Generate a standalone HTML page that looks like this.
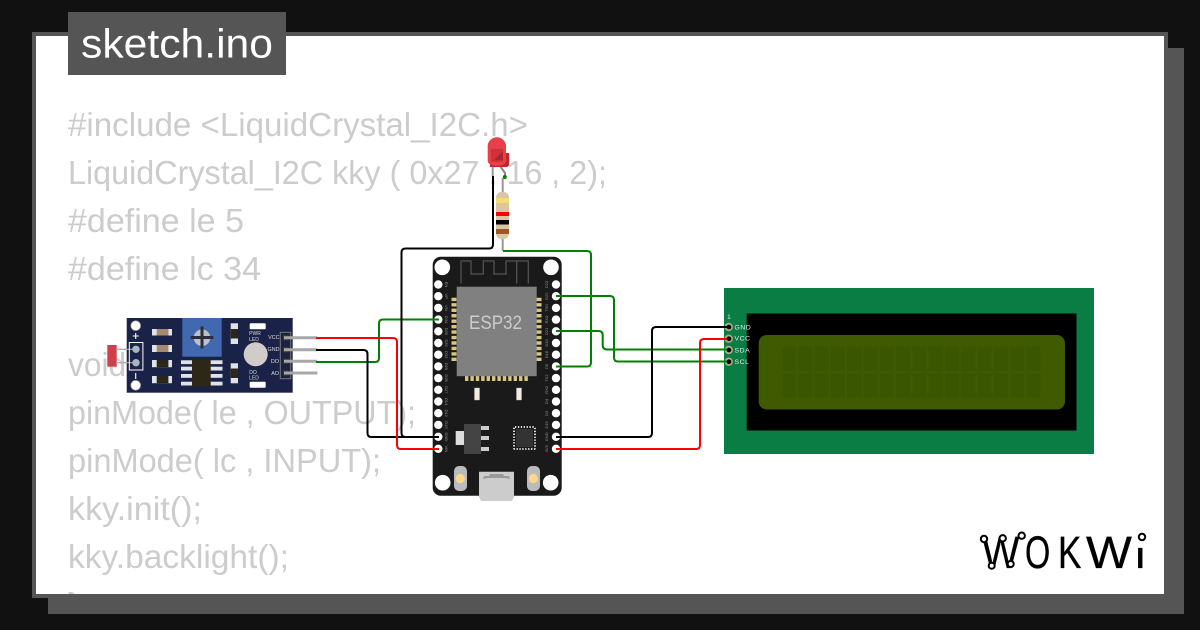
<!DOCTYPE html>
<html>
<head>
<meta charset="utf-8">
<style>
html,body{margin:0;padding:0;width:1200px;height:630px;overflow:hidden;background:#111;}
svg{position:absolute;left:0;top:0;}
#logo{position:absolute;left:0;top:0;width:1200px;height:630px;font-family:"Liberation Sans",sans-serif;font-size:45px;line-height:45px;color:#000;-webkit-text-stroke:.3px #000;}
#logo span{position:absolute;top:530px;transform-origin:0 38px;}
</style>
</head>
<body>
<svg width="1200" height="630" viewBox="0 0 1200 630" xmlns="http://www.w3.org/2000/svg">
<defs><clipPath id="c"><rect x="36" y="36" width="1128" height="558"/></clipPath></defs>
<rect width="1200" height="630" fill="#111"/>
<rect x="48" y="48" width="1136" height="566" fill="#555"/>
<rect x="32" y="32" width="1136" height="566" fill="#555"/>
<rect x="36" y="36" width="1128" height="558" fill="#fff"/>

<g clip-path="url(#c)" font-family="'Liberation Sans',sans-serif" font-size="33" fill="#ccc">
<text x="68" y="136" textLength="460" lengthAdjust="spacingAndGlyphs">#include &lt;LiquidCrystal_I2C.h&gt;</text>
<text x="68" y="184" textLength="539" lengthAdjust="spacingAndGlyphs">LiquidCrystal_I2C kky ( 0x27 , 16 , 2);</text>
<text x="68" y="232" textLength="176" lengthAdjust="spacingAndGlyphs">#define le 5</text>
<text x="68" y="280" textLength="193" lengthAdjust="spacingAndGlyphs">#define lc 34</text>
<text x="68" y="376" textLength="185" lengthAdjust="spacingAndGlyphs">void setup() {</text>
<text x="68" y="424" textLength="348" lengthAdjust="spacingAndGlyphs">pinMode( le , OUTPUT);</text>
<text x="68" y="472" textLength="313" lengthAdjust="spacingAndGlyphs">pinMode( lc , INPUT);</text>
<text x="68" y="520" textLength="134" lengthAdjust="spacingAndGlyphs">kky.init();</text>
<text x="68" y="568" textLength="221" lengthAdjust="spacingAndGlyphs">kky.backlight();</text>
<text x="68" y="616">}</text>
</g>

<rect x="68" y="12" width="218" height="63" fill="#555"/>
<text x="81" y="57.5" font-family="'Liberation Sans',sans-serif" font-size="41" fill="#fff" textLength="192" lengthAdjust="spacingAndGlyphs">sketch.ino</text>

<!-- LCD -->
<rect x="724" y="288" width="370" height="166" fill="#0a7d45"/>
<rect x="746.7" y="313.5" width="329.8" height="117" fill="#000"/>
<rect x="758.7" y="335" width="306.3" height="74.5" rx="8" fill="#3f5a00"/>
<g stroke="#3a5700" stroke-width="14" stroke-dasharray="24.4 2.3" fill="none">
<line x1="789" y1="346.7" x2="789" y2="398"/><line x1="805.3" y1="346.7" x2="805.3" y2="398"/><line x1="821.6" y1="346.7" x2="821.6" y2="398"/><line x1="837.9" y1="346.7" x2="837.9" y2="398"/><line x1="854.2" y1="346.7" x2="854.2" y2="398"/><line x1="870.5" y1="346.7" x2="870.5" y2="398"/><line x1="886.8" y1="346.7" x2="886.8" y2="398"/><line x1="903.1" y1="346.7" x2="903.1" y2="398"/><line x1="919.4" y1="346.7" x2="919.4" y2="398"/><line x1="935.7" y1="346.7" x2="935.7" y2="398"/><line x1="952" y1="346.7" x2="952" y2="398"/><line x1="968.3" y1="346.7" x2="968.3" y2="398"/><line x1="984.6" y1="346.7" x2="984.6" y2="398"/><line x1="1000.9" y1="346.7" x2="1000.9" y2="398"/><line x1="1017.2" y1="346.7" x2="1017.2" y2="398"/><line x1="1033.5" y1="346.7" x2="1033.5" y2="398"/>
</g>
<g fill="#0a7d45" stroke="#b5a77f" stroke-width="2">
<circle cx="728.7" cy="327" r="3.2"/><circle cx="728.7" cy="338.7" r="3.2"/><circle cx="728.7" cy="350" r="3.2"/><circle cx="728.7" cy="361.7" r="3.2"/>
</g>
<g font-family="'Liberation Sans',sans-serif" font-size="6.8" fill="#e8e8e8">
<text x="727" y="319">1</text>
<text x="734.5" y="329.500" letter-spacing=".6">GND</text>
<text x="734.5" y="340.500" letter-spacing=".6">VCC</text>
<text x="734.5" y="352.500" letter-spacing=".6">SDA</text>
<text x="734.5" y="364" letter-spacing=".6">SCL</text>
</g>

<!-- ESP32 board -->
<rect x="432.7" y="256.7" width="129" height="239" rx="8" fill="#1a1a1a"/>
<g fill="#fff">
<circle cx="442.3" cy="267.3" r="7.8"/><circle cx="551" cy="267.3" r="7.8"/><circle cx="442.7" cy="482.7" r="7.8"/><circle cx="550.7" cy="482.7" r="7.8"/>
<circle cx="438.3" cy="284.5" r="4.2"/><circle cx="438.3" cy="296.2" r="4.2"/><circle cx="438.3" cy="307.9" r="4.2"/><circle cx="438.3" cy="319.6" r="4.2"/><circle cx="438.3" cy="331.3" r="4.2"/><circle cx="438.3" cy="343" r="4.2"/><circle cx="438.3" cy="354.7" r="4.2"/><circle cx="438.3" cy="366.4" r="4.2"/><circle cx="438.3" cy="378.1" r="4.2"/><circle cx="438.3" cy="389.8" r="4.2"/><circle cx="438.3" cy="401.5" r="4.2"/><circle cx="438.3" cy="413.2" r="4.2"/><circle cx="438.3" cy="424.9" r="4.2"/><circle cx="438.3" cy="436.8" r="4.2"/><circle cx="438.3" cy="448.8" r="4.2"/>
<circle cx="556" cy="284.5" r="4.2"/><circle cx="556" cy="296.2" r="4.2"/><circle cx="556" cy="307.9" r="4.2"/><circle cx="556" cy="319.6" r="4.2"/><circle cx="556" cy="331.3" r="4.2"/><circle cx="556" cy="343" r="4.2"/><circle cx="556" cy="354.7" r="4.2"/><circle cx="556" cy="366.4" r="4.2"/><circle cx="556" cy="378.1" r="4.2"/><circle cx="556" cy="389.8" r="4.2"/><circle cx="556" cy="401.5" r="4.2"/><circle cx="556" cy="413.2" r="4.2"/><circle cx="556" cy="424.9" r="4.2"/><circle cx="556" cy="436.8" r="4.2"/><circle cx="556" cy="448.8" r="4.2"/>
</g>
<g font-family="'Liberation Sans',sans-serif" font-size="4" fill="#999" text-anchor="middle">
<text transform="translate(445,284.5) rotate(90)">EN</text><text transform="translate(445,296.2) rotate(90)">VP</text><text transform="translate(445,307.9) rotate(90)">VN</text><text transform="translate(445,319.6) rotate(90)">D34</text><text transform="translate(445,331.3) rotate(90)">D35</text><text transform="translate(445,343) rotate(90)">D32</text><text transform="translate(445,354.7) rotate(90)">D33</text><text transform="translate(445,366.4) rotate(90)">D25</text><text transform="translate(445,378.1) rotate(90)">D26</text><text transform="translate(445,389.8) rotate(90)">D27</text><text transform="translate(445,401.5) rotate(90)">D14</text><text transform="translate(445,413.2) rotate(90)">D12</text><text transform="translate(445,424.9) rotate(90)">D13</text><text transform="translate(445,436.8) rotate(90)">GND</text><text transform="translate(445,448.8) rotate(90)">VIN</text>
<text transform="translate(548,284.5) rotate(-90)">D23</text><text transform="translate(548,296.2) rotate(-90)">D22</text><text transform="translate(548,307.9) rotate(-90)">TX0</text><text transform="translate(548,319.6) rotate(-90)">RX0</text><text transform="translate(548,331.3) rotate(-90)">D21</text><text transform="translate(548,343) rotate(-90)">D19</text><text transform="translate(548,354.7) rotate(-90)">D18</text><text transform="translate(548,366.4) rotate(-90)">D5</text><text transform="translate(548,378.1) rotate(-90)">TX2</text><text transform="translate(548,389.8) rotate(-90)">RX2</text><text transform="translate(548,401.5) rotate(-90)">D4</text><text transform="translate(548,413.2) rotate(-90)">D2</text><text transform="translate(548,424.9) rotate(-90)">D15</text><text transform="translate(548,436.8) rotate(-90)">GND</text><text transform="translate(548,448.8) rotate(-90)">3V3</text>
</g>
<path d="M461 283.5V261H471V274H483.3V261H494V274H506V261H528.3V283.5M516.7 261V283.5" fill="none" stroke="#555" stroke-width="1.2"/>
<g stroke="#d8c77e" stroke-width="5" fill="none">
<line x1="454" y1="297.7" x2="454" y2="363" stroke-dasharray="3.4 2.05"/>
<line x1="539" y1="297.7" x2="539" y2="363" stroke-dasharray="3.4 2.05"/>
<line x1="465" y1="378.5" x2="529.5" y2="378.5" stroke-dasharray="3.4 2"/>
</g>
<rect x="456.7" y="286.7" width="80" height="89.5" fill="#808080"/>
<text x="495.5" y="329" font-family="'Liberation Sans',sans-serif" font-size="19" fill="#ccc" text-anchor="middle" textLength="53" lengthAdjust="spacingAndGlyphs">ESP32</text>
<rect x="474.5" y="388" width="5" height="12" fill="#f4ecdc" stroke="#bbb" stroke-width=".4"/>
<rect x="516.5" y="388" width="5" height="12" fill="#f4ecdc" stroke="#bbb" stroke-width=".4"/>
<!-- regulator -->
<rect x="455.7" y="431" width="9" height="14" fill="#ddd"/>
<rect x="481" y="426" width="8" height="4" fill="#ccc"/><rect x="481" y="436" width="8" height="4" fill="#ccc"/><rect x="481" y="447" width="8" height="4" fill="#ccc"/>
<rect x="464" y="424" width="17" height="30" fill="#444"/>
<!-- QFN -->
<rect x="514" y="427" width="21" height="22" rx="1" fill="none" stroke="#ddd" stroke-width="2" stroke-dasharray="1.3 1.6"/>
<rect x="516" y="429" width="17" height="18" fill="#333"/>
<!-- buttons -->
<rect x="454" y="466" width="13" height="25" rx="5" fill="#bbb"/>
<circle cx="460.3" cy="478.5" r="4.6" fill="#fdd78e"/>
<rect x="527" y="466" width="13" height="25" rx="5" fill="#bbb"/>
<circle cx="533.3" cy="478.5" r="4.6" fill="#fdd78e"/>
<!-- USB -->
<path d="M479 471.7H514V497L512 501H481L479 497Z" fill="#ccc"/>
<path d="M484 476H489L490 474H503L504 476H509L510 479L505 478H488L483 479Z" fill="#999"/>

<!-- LED leads + resistor -->
<line x1="492.7" y1="165" x2="492.7" y2="176" stroke="#999" stroke-width="2"/>
<path d="M500 166L505 173V177" fill="none" stroke="#888" stroke-width="2"/>
<line x1="502.7" y1="178" x2="502.7" y2="193" stroke="#999" stroke-width="2"/>
<line x1="502.7" y1="238" x2="502.7" y2="251" stroke="#999" stroke-width="2"/>
<rect x="496" y="192" width="13" height="47" rx="5.5" fill="#dbc5a7"/>
<rect x="496" y="198" width="13" height="5" fill="#f3dc76"/>
<rect x="496" y="212" width="13" height="4" fill="#f00"/>
<rect x="496" y="220" width="13" height="4.5" fill="#000"/>
<rect x="496" y="229" width="13" height="5" fill="#9a5a28"/>
<!-- LED -->
<path d="M503 153H508.5Q509.5 153 509.2 156V164A3 3 0 0 1 505.5 167H490V160Z" fill="#c8222c"/>
<path d="M487.7 145.500A9.2 9.200 0 0 1 506 145.500V161C506 167.500 488 167.500 487.7 161Z" fill="#e6404a"/>
<path d="M491 149H503V162H491Z" fill="#d0303a"/>
<path d="M494 160L503 151V160Z" fill="#a8252e"/>
<circle cx="504.8" cy="177" r="2" fill="#008000"/>

<!-- sensor -->
<line x1="116" y1="349.3" x2="136" y2="349.3" stroke="#aaa" stroke-width="1.2"/>
<line x1="116" y1="362.7" x2="136" y2="362.7" stroke="#aaa" stroke-width="1.2"/>
<rect x="107.3" y="345" width="9.4" height="21.7" fill="#d0404a"/>
<rect x="126.7" y="318" width="166" height="74.7" fill="#1a2347"/>
<line x1="116" y1="349.3" x2="136" y2="349.3" stroke="#aaa" stroke-width="1.2"/>
<line x1="116" y1="362.7" x2="136" y2="362.7" stroke="#aaa" stroke-width="1.2"/>
<circle cx="135.7" cy="325.7" r="4.8" fill="#fff" stroke="#bbb" stroke-width=".8"/>
<circle cx="135.7" cy="385.3" r="4.8" fill="#fff" stroke="#bbb" stroke-width=".8"/>
<rect x="129.3" y="342.5" width="13.6" height="27.5" fill="none" stroke="#fff" stroke-width="1"/>
<circle cx="136" cy="349.3" r="3.7" fill="#aab4c0"/>
<circle cx="136" cy="362.7" r="3.7" fill="#aab4c0"/>
<path d="M132.7 336H138.7M135.7 333V339M135.7 373V379" stroke="#fff" stroke-width="1.1"/>
<g>
<rect x="152" y="329" width="20" height="6.5" fill="#dfe3e8"/><rect x="156.7" y="329" width="11.7" height="6.5" fill="#a58a72"/>
<rect x="152" y="345" width="20" height="7" fill="#dfe3e8"/><rect x="156.7" y="345" width="11.7" height="7" fill="#a58a72"/>
<rect x="152" y="360" width="20" height="7.2" fill="#dfe3e8"/><rect x="156.7" y="360" width="11.7" height="7.2" fill="#2c2716"/>
<rect x="152" y="376" width="20" height="7.2" fill="#dfe3e8"/><rect x="156.7" y="376" width="11.7" height="7.2" fill="#2c2716"/>
</g>
<rect x="182.3" y="318" width="39.4" height="38.7" fill="#4169b0"/>
<circle cx="202" cy="337.7" r="8.3" fill="#bcc0c8"/>
<path d="M190.7 337.5H213.3M202 326.5V348.5" stroke="#2c2c3a" stroke-width="3"/>
<g fill="#dfe3e8">
<rect x="181" y="360.3" width="30" height="3.8"/><rect x="181" y="366.7" width="30" height="3.8" /><rect x="181" y="374" width="30" height="3.8"/><rect x="181" y="381.7" width="30" height="3.8"/>
<rect x="211" y="360.3" width="11.5" height="3.8"/><rect x="211" y="366.7" width="11.5" height="3.8"/><rect x="211" y="374" width="11.5" height="3.8"/><rect x="211" y="381.7" width="11.5" height="3.8"/>
</g>
<rect x="192" y="359.3" width="18.7" height="27.4" fill="#2c2716"/>
<rect x="230.7" y="323.3" width="7.3" height="20.7" fill="#dfe3e8"/><rect x="230.7" y="329" width="7.3" height="9.5" fill="#2c2716"/>
<rect x="230.7" y="363.3" width="7.3" height="20" fill="#dfe3e8"/><rect x="230.7" y="368.5" width="7.3" height="9.5" fill="#2c2716"/>
<rect x="249.7" y="323.3" width="16" height="6" rx="1" fill="#fff"/>
<rect x="249.7" y="381.7" width="16" height="6" rx="1" fill="#fff"/>
<circle cx="255.7" cy="354.3" r="12" fill="#d0cccc"/>
<g font-family="'Liberation Sans',sans-serif" font-size="5" fill="#ddd" text-anchor="middle">
<text x="255" y="335">PWR</text><text x="254" y="341">LED</text>
<text x="253" y="374">DO</text><text x="254" y="379.5">LED</text>
</g>
<g font-family="'Liberation Sans',sans-serif" font-size="5.4" fill="#ddd" text-anchor="end">
<text x="279.5" y="339.2">VCC</text><text x="279.5" y="351">GND</text><text x="279" y="363">DO</text><text x="279" y="375">AO</text>
</g>
<rect x="280.3" y="332.3" width="10.4" height="46.4" fill="none" stroke="#777" stroke-width="1"/>
<g fill="#3a342a">
<rect x="283" y="335" width="6" height="5.5"/><rect x="283" y="347" width="6" height="5.5"/><rect x="283" y="358.5" width="6" height="5.5"/><rect x="283" y="370.2" width="6" height="5.5"/>
</g>
<g stroke="#a8a8a8" stroke-width="3">
<line x1="284" y1="337.7" x2="317" y2="337.7"/><line x1="284" y1="349.7" x2="317" y2="349.7"/><line x1="284" y1="361.3" x2="317" y2="361.3"/><line x1="284" y1="373" x2="317.5" y2="373"/>
</g>

<!-- wires -->
<g fill="none" stroke-width="2" stroke-linejoin="round">
<path stroke="#008000" d="M503 251H587Q591 251 591 255V362.500Q591 366.500 587 366.500H556"/>
<path stroke="#008000" d="M316 362H375Q379 362 379 358V323.500Q379 319.500 383 319.500H439"/>
<path stroke="#008000" d="M556 296H610Q614 296 614 300V357.500Q614 361.500 618 361.500H729"/>
<path stroke="#008000" d="M556 331H598.500Q602.700 331 602.700 335V345Q602.700 349.500 607 349.500H729"/>
<path stroke="#000" d="M493 176V244.500Q493 248.500 489 248.500H405.500Q401.500 248.500 401.500 252.500V433Q401.500 437 405.500 437H439"/>
<path stroke="#000" d="M316 350H363.500Q367.500 350 367.500 354V433Q367.500 437 371.500 437H439"/>
<path stroke="#f00" d="M316 338H393Q397 338 397 342V445Q397 449 401 449H439"/>
<path stroke="#000" d="M556 437H648Q652 437 652 433V331Q652 327 656 327H729"/>
<path stroke="#f00" d="M556 449H696Q700 449 700 445V343Q700 339 704 339H729"/>
</g>
<circle cx="729" cy="327" r="2.3" fill="#000"/><circle cx="729" cy="338.7" r="2.3" fill="#000"/><circle cx="729" cy="350" r="2.3" fill="#000"/><circle cx="729" cy="361.7" r="2.3" fill="#000"/>
</svg>

<div id="logo"><span style="left:982px;transform:scaleX(.88)">W</span><span style="left:1025px;transform:scaleX(.72)">O</span><span style="left:1058px;transform:scaleX(.78)">K</span><span style="left:1086px;transform:scaleX(1.08)">W</span><span style="left:1134px;transform:scaleY(.64)">I</span></div>

<svg width="1200" height="630" viewBox="0 0 1200 630" xmlns="http://www.w3.org/2000/svg">
<g fill="#fff" stroke="#000" stroke-width="2">
<circle cx="984" cy="539" r="3.2"/><circle cx="1002.700" cy="538.300" r="3.2"/><circle cx="1021.700" cy="535.700" r="3.2"/><circle cx="991.700" cy="565.700" r="3"/><circle cx="1010.700" cy="564" r="3"/><circle cx="1142" cy="537" r="3.2"/>
</g>
</svg>
</body>
</html>
